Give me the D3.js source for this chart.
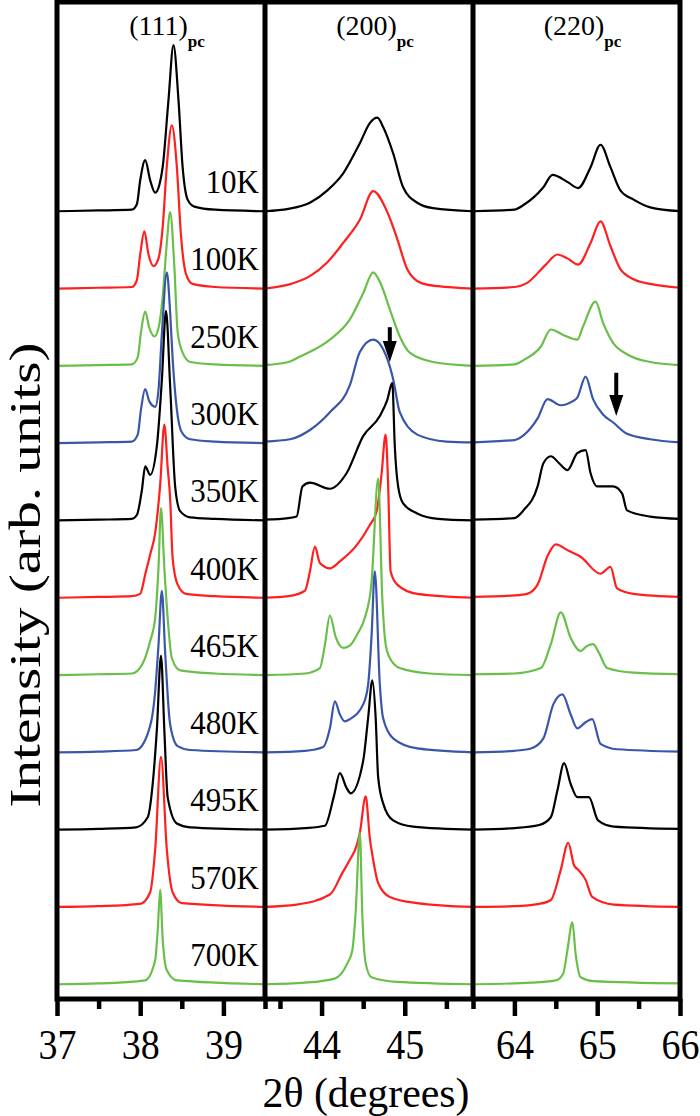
<!DOCTYPE html>
<html>
<head>
<meta charset="utf-8">
<script src="https://cdn.jsdelivr.net/npm/d3@7/dist/d3.min.js"></script>
<style>
  body { margin: 0; background: #fff; }
  svg { display: block; }
  svg text { font-family: "Liberation Serif", "DejaVu Serif", "Times New Roman", serif; }
</style>
</head>
<body>
<div id="chart"></div>
<script>
const temps = ["10K", "100K", "250K", "300K", "350K", "400K", "465K", "480K", "495K", "570K", "700K"];

// [2theta, intensity], one list per temperature
const peak111 = [
  [[37,0.01],[37.5,0.02],[37.9,0.03],[37.96,0.1],[38.0,0.41],[38.06,0.67],[38.12,0.41],[38.18,0.25],[38.23,0.35],[38.27,0.58],[38.34,1.45],[38.4,2.16],[38.46,1.45],[38.51,0.58],[38.57,0.16],[38.65,0.07],[38.9,0.03],[39.5,0.01]],
  [[37,0.01],[37.5,0.02],[37.9,0.03],[37.96,0.12],[38.0,0.45],[38.05,0.75],[38.1,0.45],[38.16,0.3],[38.22,0.4],[38.27,0.8],[38.32,1.59],[38.38,2.12],[38.44,1.59],[38.49,0.7],[38.55,0.2],[38.63,0.07],[38.9,0.03],[39.5,0.01]],
  [[37,0.01],[37.5,0.02],[37.9,0.03],[37.97,0.12],[38.01,0.45],[38.06,0.71],[38.11,0.5],[38.17,0.39],[38.22,0.5],[38.27,0.9],[38.32,1.6],[38.36,2.0],[38.41,1.3],[38.45,0.45],[38.51,0.18],[38.6,0.06],[38.9,0.03],[39.5,0.01]],
  [[37,0.01],[37.5,0.02],[37.9,0.03],[37.97,0.12],[38.01,0.45],[38.06,0.71],[38.11,0.55],[38.18,0.48],[38.22,0.7],[38.26,1.41],[38.32,2.22],[38.36,1.7],[38.39,1.1],[38.44,0.45],[38.5,0.15],[38.6,0.06],[38.9,0.03],[39.5,0.01]],
  [[37,0.01],[37.5,0.02],[37.9,0.03],[37.96,0.08],[38.02,0.4],[38.06,0.71],[38.12,0.6],[38.2,0.97],[38.26,1.82],[38.31,2.72],[38.36,1.75],[38.42,0.45],[38.48,0.13],[38.6,0.05],[38.9,0.03],[39.5,0.01]],
  [[37,0.01],[37.5,0.02],[37.9,0.03],[38.0,0.06],[38.06,0.31],[38.12,0.57],[38.18,0.85],[38.24,1.47],[38.29,2.25],[38.33,1.7],[38.36,1.29],[38.39,0.52],[38.45,0.18],[38.55,0.06],[38.9,0.03],[39.5,0.01]],
  [[37,0.01],[37.5,0.02],[37.9,0.03],[38.03,0.16],[38.12,0.45],[38.18,0.75],[38.22,1.4],[38.25,2.17],[38.29,1.4],[38.33,0.75],[38.38,0.23],[38.48,0.07],[38.9,0.03],[39.5,0.01]],
  [[37,0.01],[37.5,0.02],[37.95,0.04],[38.09,0.25],[38.18,0.8],[38.22,1.4],[38.26,2.1],[38.3,1.3],[38.36,0.37],[38.45,0.09],[38.6,0.04],[39.5,0.01]],
  [[37,0.01],[37.5,0.02],[37.95,0.04],[38.09,0.17],[38.15,0.6],[38.2,1.3],[38.25,2.26],[38.29,1.3],[38.33,0.43],[38.44,0.09],[38.6,0.04],[39.5,0.01]],
  [[37,0.01],[37.5,0.02],[38.0,0.05],[38.12,0.2],[38.18,0.75],[38.25,1.95],[38.32,0.75],[38.39,0.2],[38.5,0.06],[39.5,0.01]],
  [[37,0.01],[37.5,0.02],[38.06,0.06],[38.18,0.32],[38.21,0.7],[38.24,1.23],[38.27,0.6],[38.32,0.19],[38.44,0.06],[39.5,0.01]]
];

const peak200 = [
  [[43.32,0.01],[43.6,0.04],[43.86,0.12],[44.07,0.28],[44.26,0.5],[44.46,0.89],[44.58,1.15],[44.67,1.22],[44.74,1.1],[44.86,0.76],[44.98,0.32],[45.15,0.12],[45.34,0.05],[45.82,0.01]],
  [[43.32,0.01],[43.6,0.06],[43.86,0.17],[44.07,0.35],[44.26,0.6],[44.46,0.9],[44.62,1.27],[44.79,1.0],[44.91,0.65],[45.03,0.26],[45.2,0.08],[45.4,0.04],[45.82,0.01]],
  [[43.32,0.02],[43.6,0.06],[43.74,0.13],[44.1,0.35],[44.34,0.61],[44.5,0.95],[44.62,1.22],[44.72,1.05],[44.82,0.74],[44.94,0.39],[45.06,0.18],[45.34,0.06],[45.82,0.01]],
  [[43.32,0.03],[43.62,0.06],[43.86,0.18],[44.1,0.41],[44.34,0.76],[44.46,1.19],[44.62,1.35],[44.79,1.1],[44.86,0.84],[44.94,0.41],[45.15,0.12],[45.5,0.03],[45.82,0.02]],
  [[43.32,0.02],[43.6,0.04],[43.7,0.06],[43.77,0.45],[43.86,0.5],[44.1,0.42],[44.3,0.62],[44.5,1.1],[44.7,1.36],[44.79,1.57],[44.85,1.79],[44.88,0.97],[44.92,0.45],[44.98,0.23],[45.15,0.1],[45.4,0.03],[45.82,0.01]],
  [[43.32,0.01],[43.6,0.03],[43.8,0.1],[43.86,0.35],[43.92,0.67],[43.98,0.46],[44.1,0.39],[44.22,0.48],[44.43,0.7],[44.58,0.95],[44.66,1.12],[44.72,1.6],[44.77,2.12],[44.8,1.47],[44.83,0.35],[44.91,0.18],[45.15,0.06],[45.82,0.01]],
  [[43.32,0.01],[43.8,0.03],[43.98,0.1],[44.04,0.4],[44.1,0.78],[44.17,0.5],[44.26,0.36],[44.34,0.39],[44.43,0.54],[44.52,0.75],[44.6,1.2],[44.68,2.55],[44.73,1.0],[44.77,0.41],[44.82,0.23],[44.94,0.1],[45.3,0.03],[45.82,0.01]],
  [[43.32,0.01],[43.8,0.03],[44.02,0.08],[44.1,0.32],[44.16,0.67],[44.22,0.5],[44.28,0.41],[44.34,0.44],[44.5,0.63],[44.56,0.89],[44.6,1.5],[44.64,2.35],[44.7,0.89],[44.74,0.45],[44.86,0.19],[45.15,0.06],[45.82,0.01]],
  [[43.32,0.01],[43.8,0.03],[44.04,0.06],[44.15,0.45],[44.22,0.74],[44.3,0.55],[44.35,0.48],[44.5,0.9],[44.56,1.46],[44.61,1.94],[44.65,1.46],[44.68,0.69],[44.74,0.35],[44.86,0.13],[45.1,0.05],[45.82,0.01]],
  [[43.32,0.01],[43.7,0.04],[44.1,0.17],[44.25,0.45],[44.34,0.62],[44.42,0.8],[44.46,0.97],[44.53,1.44],[44.58,0.9],[44.62,0.62],[44.68,0.32],[44.82,0.14],[45.15,0.06],[45.82,0.01]],
  [[43.32,0.01],[43.8,0.03],[44.15,0.08],[44.31,0.28],[44.37,0.45],[44.41,0.95],[44.46,1.97],[44.49,0.9],[44.53,0.28],[44.6,0.1],[44.9,0.04],[45.82,0.01]]
];

const peak220 = [
  [[63.5,0.01],[64.0,0.03],[64.11,0.09],[64.35,0.32],[64.46,0.48],[64.64,0.39],[64.77,0.31],[64.92,0.58],[65.04,0.87],[65.16,0.58],[65.28,0.28],[65.44,0.16],[65.64,0.06],[66,0.01]],
  [[63.5,0.01],[64.0,0.03],[64.15,0.08],[64.38,0.32],[64.52,0.45],[64.64,0.4],[64.77,0.32],[64.92,0.6],[65.04,0.88],[65.16,0.56],[65.28,0.26],[65.44,0.13],[65.64,0.07],[66,0.02]],
  [[63.5,0.01],[64.0,0.03],[64.12,0.09],[64.32,0.26],[64.44,0.48],[64.59,0.41],[64.76,0.35],[64.83,0.52],[64.98,0.84],[65.07,0.57],[65.19,0.31],[65.36,0.16],[65.64,0.06],[66,0.02]],
  [[63.5,0.02],[64.0,0.05],[64.12,0.12],[64.28,0.33],[64.4,0.58],[64.56,0.5],[64.7,0.55],[64.76,0.6],[64.86,0.87],[64.95,0.58],[65.07,0.38],[65.19,0.28],[65.36,0.13],[65.64,0.06],[66,0.02]],
  [[63.5,0.02],[64.0,0.04],[64.11,0.14],[64.28,0.45],[64.35,0.75],[64.44,0.84],[64.54,0.75],[64.64,0.66],[64.76,0.88],[64.86,0.92],[64.92,0.62],[65.0,0.45],[65.19,0.45],[65.3,0.36],[65.36,0.14],[65.64,0.06],[66,0.03]],
  [[63.5,0.02],[64.0,0.04],[64.15,0.06],[64.28,0.18],[64.4,0.55],[64.5,0.7],[64.65,0.62],[64.8,0.54],[65.04,0.32],[65.16,0.41],[65.24,0.13],[65.44,0.06],[66,0.02]],
  [[63.5,0.02],[64.0,0.03],[64.32,0.1],[64.44,0.41],[64.56,0.82],[64.68,0.49],[64.8,0.32],[64.87,0.38],[64.95,0.41],[65.02,0.3],[65.12,0.1],[65.44,0.04],[66,0.02]],
  [[63.5,0.01],[64.0,0.03],[64.2,0.06],[64.35,0.19],[64.47,0.63],[64.58,0.76],[64.68,0.5],[64.76,0.32],[64.86,0.4],[64.94,0.44],[65.04,0.12],[65.24,0.05],[66,0.02]],
  [[63.5,0.01],[64.0,0.03],[64.3,0.07],[64.44,0.17],[64.52,0.52],[64.6,0.87],[64.68,0.6],[64.76,0.43],[64.9,0.43],[65.01,0.13],[65.2,0.05],[66,0.02]],
  [[63.5,0.01],[64.0,0.02],[64.3,0.05],[64.44,0.1],[64.56,0.49],[64.65,0.84],[64.72,0.55],[64.77,0.49],[64.86,0.36],[64.94,0.14],[65.2,0.04],[66,0.01]],
  [[63.5,0.01],[64.2,0.03],[64.5,0.06],[64.59,0.15],[64.64,0.45],[64.7,0.81],[64.74,0.4],[64.8,0.1],[64.95,0.05],[66,0.02]]
];

const panelTitles = ["(111)", "(200)", "(220)"];
const panelDomains = [[37, 39.5], [43.32, 45.82], [63.5, 66]];
const majorTicks = [[37, 38, 39], [44, 45], [64, 65, 66]];
const minorTicks = [[37.5, 38.5, 39.5], [43.5, 44.5, 45.5], [63.5, 64.5, 65.5]];
// arrows: panel index, 2theta, top and tip in stacked intensity units
const arrows = [
  { panel: 1, theta: 44.82, top: 8.51, tip: 8.06 },
  { panel: 2, theta: 65.23, top: 7.92, tip: 7.36 }
];

const palette = ["#000000", "#ff1f1f", "#6abf4a", "#3a56a8"];
const SERIF = '"Liberation Serif", "DejaVu Serif", "Times New Roman", serif';

const W = 700, H = 1116;
const FRAME = { LEFT: 57, RIGHT: 680, TOP: 2, BOTTOM: 999 };
const edges = [FRAME.LEFT, 265, 473, FRAME.RIGHT];

const svg = d3.select("#chart").append("svg").attr("width", W).attr("height", H);

const y = d3.scaleLinear().domain([0, 10]).range([985, 212]);
const xs = panelDomains.map((dom, p) => d3.scaleLinear().domain(dom).range([edges[p], edges[p + 1]]));
const allPeaks = [peak111, peak200, peak220];

const defs = svg.append("defs");
xs.forEach((x, p) => {
  defs.append("clipPath").attr("id", "clip" + p)
    .append("rect")
    .attr("x", edges[p]).attr("y", FRAME.TOP)
    .attr("width", edges[p + 1] - edges[p]).attr("height", FRAME.BOTTOM - FRAME.TOP);
});

// curves
xs.forEach((x, p) => {
  const g = svg.append("g").attr("clip-path", `url(#clip${p})`);
  allPeaks[p].forEach((pts, i) => {
    const off = temps.length - 1 - i;
    const line = d3.line()
      .x(d => x(d[0]))
      .y(d => y(d[1] + off))
      .curve(d3.curveMonotoneX);
    g.append("path")
      .datum(pts)
      .attr("d", line)
      .attr("fill", "none")
      .attr("stroke", palette[i % 4])
      .attr("stroke-width", 2.2)
      .attr("stroke-linejoin", "round");
  });
});

// temperature labels
svg.append("g").selectAll("text")
  .data(temps)
  .join("text")
  .attr("transform", (d, i) => `translate(${edges[1] - 6}, ${y(temps.length - 1 - i) - 19}) scale(1,1.08)`)
  .attr("text-anchor", "end")
  .style("font-family", SERIF)
  .style("font-size", "31px")
  .attr("fill", "#000")
  .text(d => d);

// arrows
arrows.forEach(a => {
  const x = xs[a.panel];
  const ax = x(a.theta), yt = y(a.top), yp = y(a.tip);
  const head = 21;
  svg.append("line")
    .attr("x1", ax).attr("x2", ax)
    .attr("y1", yt).attr("y2", yp - head + 2)
    .attr("stroke", "#000").attr("stroke-width", 4);
  svg.append("path")
    .attr("d", `M${ax - 7},${yp - head} L${ax + 7},${yp - head} L${ax},${yp} Z`)
    .attr("fill", "#000");
});

// axes
xs.forEach((x, p) => {
  const major = svg.append("g")
    .attr("transform", `translate(0, ${FRAME.BOTTOM})`)
    .call(d3.axisBottom(x).tickValues(majorTicks[p]).tickSize(17).tickFormat(d3.format("d")));
  major.select(".domain").remove();
  major.selectAll(".tick line").attr("stroke", "#000").attr("stroke-width", 4.5);
  major.selectAll(".tick text")
    .attr("y", null).attr("dy", null)
    .attr("transform", "translate(0, 60) scale(1,1.12)")
    .style("font-family", SERIF)
    .style("font-size", "38px")
    .attr("fill", "#000");

  const minor = svg.append("g")
    .attr("transform", `translate(0, ${FRAME.BOTTOM})`)
    .call(d3.axisBottom(x).tickValues(minorTicks[p]).tickSize(10).tickFormat(""));
  minor.select(".domain").remove();
  minor.selectAll(".tick line").attr("stroke", "#000").attr("stroke-width", 4.5);
});

// frame and panel separators
svg.append("rect")
  .attr("x", FRAME.LEFT).attr("y", FRAME.TOP)
  .attr("width", FRAME.RIGHT - FRAME.LEFT).attr("height", FRAME.BOTTOM - FRAME.TOP)
  .attr("fill", "none").attr("stroke", "#000").attr("stroke-width", 5);
svg.append("g").selectAll("line")
  .data(edges.slice(1, 3))
  .join("line")
  .attr("x1", d => d).attr("x2", d => d)
  .attr("y1", FRAME.TOP).attr("y2", FRAME.BOTTOM)
  .attr("stroke", "#000").attr("stroke-width", 5);

// panel titles
panelTitles.forEach((t, p) => {
  const cx = (edges[p] + edges[p + 1]) / 2 + 6;
  const txt = svg.append("text")
    .attr("x", cx).attr("y", 35)
    .attr("text-anchor", "middle")
    .style("font-family", SERIF)
    .style("font-size", "28px")
    .attr("fill", "#000");
  txt.append("tspan").text(t);
  txt.append("tspan").attr("dy", 12).style("font-size", "17px").attr("font-weight", "bold").text("pc");
});

// axis titles
svg.append("text")
  .attr("transform", "translate(366, 1107) scale(1,1.08)")
  .attr("text-anchor", "middle")
  .style("font-family", SERIF)
  .style("font-size", "40px")
  .attr("textLength", 207)
  .attr("lengthAdjust", "spacingAndGlyphs")
  .attr("fill", "#000")
  .text("2θ (degrees)");

svg.append("text")
  .attr("transform", "translate(40, 575) rotate(-90)")
  .attr("text-anchor", "middle")
  .style("font-family", SERIF)
  .style("font-size", "44px")
  .attr("textLength", 465)
  .attr("lengthAdjust", "spacingAndGlyphs")
  .attr("fill", "#000")
  .text("Intensity (arb. units)");
</script>
</body>
</html>
